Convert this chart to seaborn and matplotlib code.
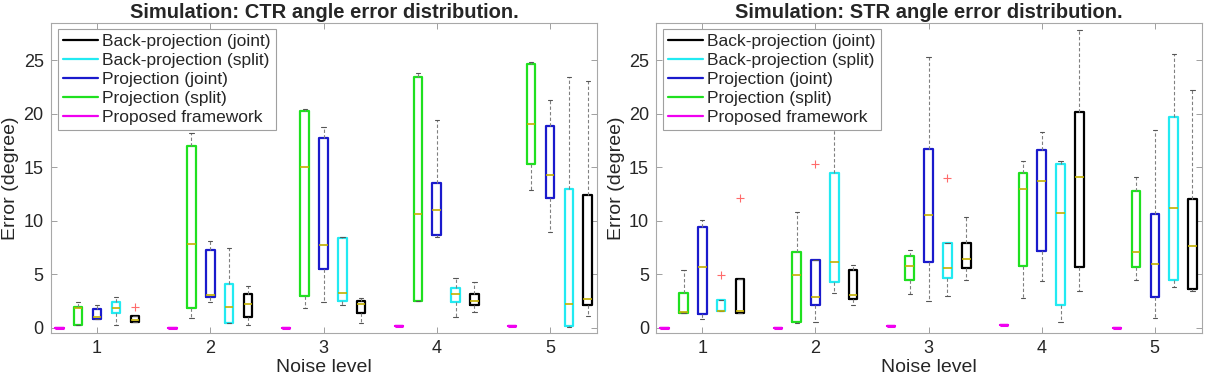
import numpy as np
import pandas as pd
import matplotlib
matplotlib.use("Agg")
import matplotlib.pyplot as plt
from matplotlib.lines import Line2D
import seaborn as sns

# noise levels on the x axis
levels = ["1", "2", "3", "4", "5"]

# methods, in the left-to-right order of the boxes inside a group
methods = ["Proposed framework", "Projection (split)", "Projection (joint)",
           "Back-projection (split)", "Back-projection (joint)"]
colors = ["#f000f0", "#1fe01f", "#1a1acc", "#22eaf2", "#000000"]

# each box: (lower whisker, q1, median, q3, upper whisker), one per noise level
# --- CTR panel ---
ctr_proposed = [(0, 0, 0, 0, 0), (0, 0, 0, 0, 0), (0, 0, 0, 0, 0),
                (0.16, 0.16, 0.16, 0.16, 0.16), (0.16, 0.16, 0.16, 0.16, 0.16)]
ctr_proj_split = [(0.31, 0.31, 1.85, 1.93, 2.39), (0.93, 1.86, 7.86, 16.99, 18.2),
                  (1.86, 2.95, 15.06, 20.25, 20.47), (2.55, 2.55, 10.65, 23.4, 23.76),
                  (12.89, 15.28, 19.0, 24.6, 24.84)]
ctr_proj_joint = [(0.84, 0.84, 1.0, 1.77, 2.17), (2.45, 2.86, 3.1, 7.24, 8.1),
                  (2.39, 5.53, 7.7, 17.7, 18.8), (8.45, 8.7, 11.02, 13.57, 19.4),
                  (8.94, 12.14, 14.25, 18.85, 21.27)]
ctr_bp_split = [(0.31, 1.40, 1.86, 2.39, 2.86), (0.47, 0.47, 1.93, 4.1, 7.45),
                (2.17, 2.48, 3.26, 8.42, 8.48), (1.02, 2.39, 3.2, 3.73, 4.66),
                (0.06, 0.22, 2.24, 12.98, 23.39)]
ctr_bp_joint = [(0.56, 0.56, 0.78, 1.09, 1.09), (0.31, 0.99, 2.24, 3.2, 3.94),
                (0.47, 1.40, 2.27, 2.48, 2.8), (1.49, 2.11, 2.55, 3.17, 4.25),
                (1.09, 2.11, 2.7, 12.45, 23.07)]
# outliers: (noise level index, method index, value)
ctr_outliers = [(0, 4, 1.93)]

# --- STR panel ---
str_proposed = [(0.03, 0.03, 0.03, 0.03, 0.03), (0, 0, 0, 0, 0),
                (0.16, 0.16, 0.16, 0.16, 0.16), (0.28, 0.28, 0.28, 0.28, 0.28),
                (0, 0, 0, 0, 0)]
str_proj_split = [(1.42, 1.42, 1.45, 3.26, 5.4), (0.47, 0.53, 4.97, 7.05, 10.78),
                  (3.17, 4.44, 5.81, 6.74, 7.3), (2.8, 5.75, 13.01, 14.44, 15.56),
                  (4.44, 5.68, 7.05, 12.83, 14.07)]
str_proj_joint = [(0.86, 1.28, 5.65, 9.47, 10.05), (0.56, 2.17, 2.86, 6.37, 6.37),
                  (2.49, 6.16, 10.59, 16.66, 25.28), (4.41, 7.14, 13.76, 16.6, 18.3),
                  (0.93, 2.86, 5.96, 10.62, 18.48)]
str_bp_split = [(1.55, 1.55, 1.6, 2.6, 2.6), (3.3, 4.25, 6.15, 14.5, 21.0),
                (2.96, 4.67, 5.6, 7.94, 7.94), (0.56, 2.17, 10.71, 15.28, 15.56),
                (3.82, 4.44, 11.18, 19.72, 25.56)]
str_bp_joint = [(1.35, 1.40, 1.58, 4.59, 4.59), (2.11, 2.73, 3.1, 5.37, 5.9),
                (4.45, 5.6, 6.46, 7.94, 10.37), (3.48, 5.65, 14.13, 20.19, 27.8),
                (3.42, 3.63, 7.61, 12.02, 22.2)]
str_outliers = [(0, 3, 4.91), (0, 4, 12.1), (1, 2, 15.35), (2, 3, 13.98)]

panels = [
    ("Simulation: CTR angle error distribution.",
     [ctr_proposed, ctr_proj_split, ctr_proj_joint, ctr_bp_split, ctr_bp_joint], ctr_outliers),
    ("Simulation: STR angle error distribution.",
     [str_proposed, str_proj_split, str_proj_joint, str_bp_split, str_bp_joint], str_outliers),
]


def to_frame(boxes):
    rows = []
    for m, per_level in zip(methods, boxes):
        for lev, five in zip(levels, per_level):
            for v in sorted(five):
                rows.append({"level": lev, "method": m, "error": v})
    return pd.DataFrame(rows)


sns.set_theme(style="white")
plt.rcParams["font.family"] = ["Liberation Sans", "DejaVu Sans"]

fig = plt.figure(figsize=(12.07, 3.84), dpi=100)
axes = [fig.add_axes([0.042, 0.132, 0.453, 0.809]),
        fig.add_axes([0.5435, 0.132, 0.4526, 0.809])]

dodge_w = 5 / 6
slot = dodge_w / len(methods)

for ax, (title, boxes, outliers) in zip(axes, panels):
    df = to_frame(boxes)
    sns.boxplot(data=df, x="level", y="error", hue="method", hue_order=methods,
                order=levels, palette=colors, fill=False, whis=(0, 100),
                width=dodge_w, gap=0.55, linewidth=1.6, showfliers=False,
                legend=False, ax=ax,
                medianprops=dict(color="#c2b000", linewidth=1.2),
                whiskerprops=dict(color="#808080", linestyle=(0, (3, 2)), linewidth=0.8),
                capprops=dict(color="#555555", linewidth=0.8))

    # proposed framework is a flat dash: show it in magenta
    cont = ax.containers[0]
    for med in cont.medians:
        med.set_color(colors[0])
        med.set_linewidth(2.2)

    # outliers as red pluses
    ox = [li + (mi - 2) * slot for li, mi, _ in outliers]
    oy = [v for _, _, v in outliers]
    ax.scatter(ox, oy, marker="+", color="#ff6b6b", s=28, linewidths=0.8, zorder=3)

    ax.set_xlim(-0.41, 4.42)
    ax.set_ylim(-0.5, 28.5)
    ax.set_yticks([0, 5, 10, 15, 20, 25])
    ax.set_xlabel("Noise level", fontsize=14, color="#262626", labelpad=1)
    ax.set_ylabel("Error (degree)", fontsize=14, color="#262626", labelpad=3)
    ax.set_title(title, fontsize=14.5, fontweight="bold", pad=3)
    ax.tick_params(direction="in", length=4, width=0.6, color="#909090",
                   labelsize=13, labelcolor="#262626",
                   top=True, right=True, bottom=True, left=True, pad=5)
    for s in ax.spines.values():
        s.set_color("#a8a8a8")
        s.set_linewidth(0.8)

    handles = [Line2D([0], [0], color=colors[i], lw=1.6) for i in [4, 3, 2, 1, 0]]
    labels = [methods[i] for i in [4, 3, 2, 1, 0]]
    leg = ax.legend(handles, labels, loc="upper left", fontsize=12.5,
                    frameon=True, fancybox=False, framealpha=1,
                    edgecolor="#a0a0a0", borderpad=0.3, labelspacing=0.22,
                    handlelength=2.0, handletextpad=0.25, borderaxespad=0,
                    bbox_to_anchor=(0.013, 0.981))
    leg.get_frame().set_linewidth(0.8)

fig.savefig("out.png", dpi=100)
